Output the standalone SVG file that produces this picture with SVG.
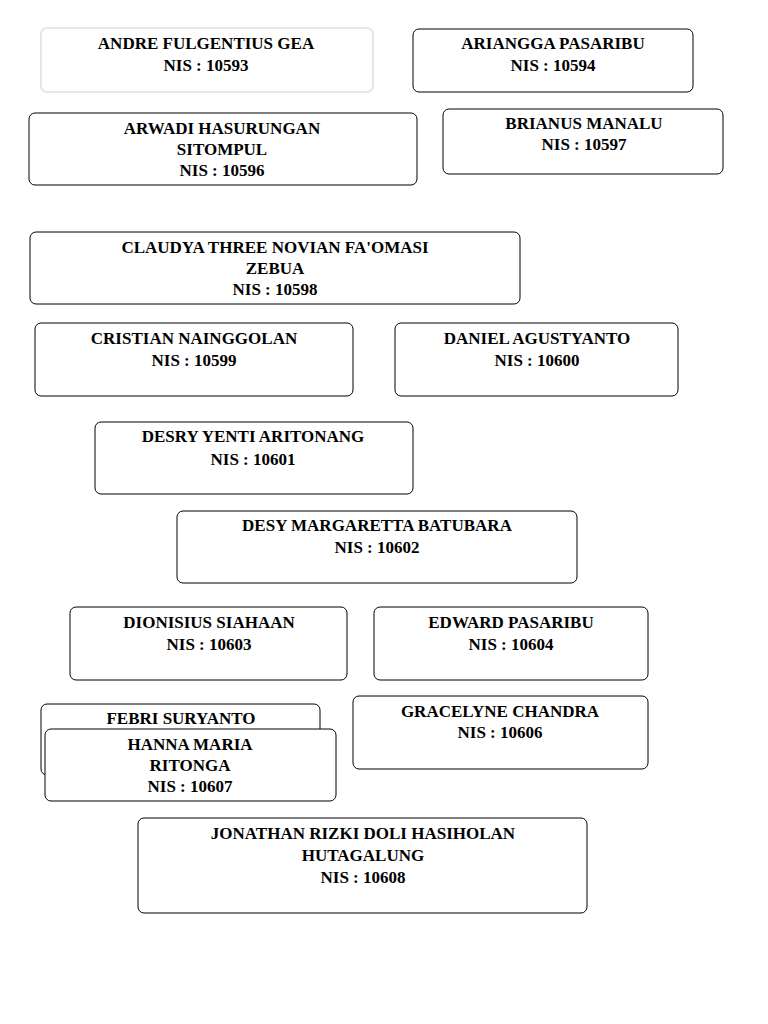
<svg xmlns="http://www.w3.org/2000/svg" width="768" height="1024" viewBox="0 0 768 1024">
<style>
rect{fill:#fff;stroke:#000;stroke-width:1}
rect.light{stroke:#e6e6e6;stroke-width:2}
text{font-family:"Liberation Serif","Times New Roman",serif;font-weight:bold;font-size:17px;text-anchor:middle;fill:#000}
</style>
<rect x="0" y="0" width="768" height="1024" style="stroke:none"/>
<g id="n1"><rect class="light" x="41" y="28" width="332" height="64" rx="6"/><text x="206" y="49">ANDRE FULGENTIUS GEA</text><text x="206" y="71">NIS : 10593</text></g>
<g id="n2"><rect x="413" y="29" width="280" height="63" rx="6"/><text x="553" y="49">ARIANGGA PASARIBU</text><text x="553" y="71">NIS : 10594</text></g>
<g id="n3"><rect x="29" y="113" width="388" height="72" rx="6"/><text x="222" y="134">ARWADI HASURUNGAN</text><text x="222" y="155">SITOMPUL</text><text x="222" y="176">NIS : 10596</text></g>
<g id="n4"><rect x="443" y="109" width="280" height="65" rx="6"/><text x="584" y="129">BRIANUS MANALU</text><text x="584" y="150">NIS : 10597</text></g>
<g id="n5"><rect x="30" y="232" width="490" height="72" rx="6"/><text x="275" y="253">CLAUDYA THREE NOVIAN FA'OMASI</text><text x="275" y="274">ZEBUA</text><text x="275" y="295">NIS : 10598</text></g>
<g id="n6"><rect x="35" y="323" width="318" height="73" rx="6"/><text x="194" y="344">CRISTIAN NAINGGOLAN</text><text x="194" y="366">NIS : 10599</text></g>
<g id="n7"><rect x="395" y="323" width="283" height="73" rx="6"/><text x="537" y="344">DANIEL AGUSTYANTO</text><text x="537" y="366">NIS : 10600</text></g>
<g id="n8"><rect x="95" y="422" width="318" height="72" rx="6"/><text x="253" y="442">DESRY YENTI  ARITONANG</text><text x="253" y="465">NIS : 10601</text></g>
<g id="n9"><rect x="177" y="511" width="400" height="72" rx="6"/><text x="377" y="531">DESY MARGARETTA BATUBARA</text><text x="377" y="553">NIS : 10602</text></g>
<g id="n10"><rect x="70" y="607" width="277" height="73" rx="6"/><text x="209" y="628">DIONISIUS SIAHAAN</text><text x="209" y="650">NIS : 10603</text></g>
<g id="n11"><rect x="374" y="607" width="274" height="73" rx="6"/><text x="511" y="628">EDWARD PASARIBU</text><text x="511" y="650">NIS : 10604</text></g>
<g id="n12"><rect x="41" y="704" width="279" height="71" rx="6"/><text x="181" y="724">FEBRI SURYANTO</text></g>
<g id="n13"><rect x="353" y="696" width="295" height="73" rx="6"/><text x="500" y="717">GRACELYNE CHANDRA</text><text x="500" y="738">NIS : 10606</text></g>
<g id="n14"><rect x="45" y="729" width="291" height="72" rx="6"/><text x="190" y="750">HANNA MARIA</text><text x="190" y="771">RITONGA</text><text x="190" y="792">NIS : 10607</text></g>
<g id="n15"><rect x="138" y="818" width="449" height="95" rx="6"/><text x="363" y="839">JONATHAN RIZKI DOLI HASIHOLAN</text><text x="363" y="861">HUTAGALUNG</text><text x="363" y="883">NIS : 10608</text></g>
<g id="connectors"></g>
</svg>
